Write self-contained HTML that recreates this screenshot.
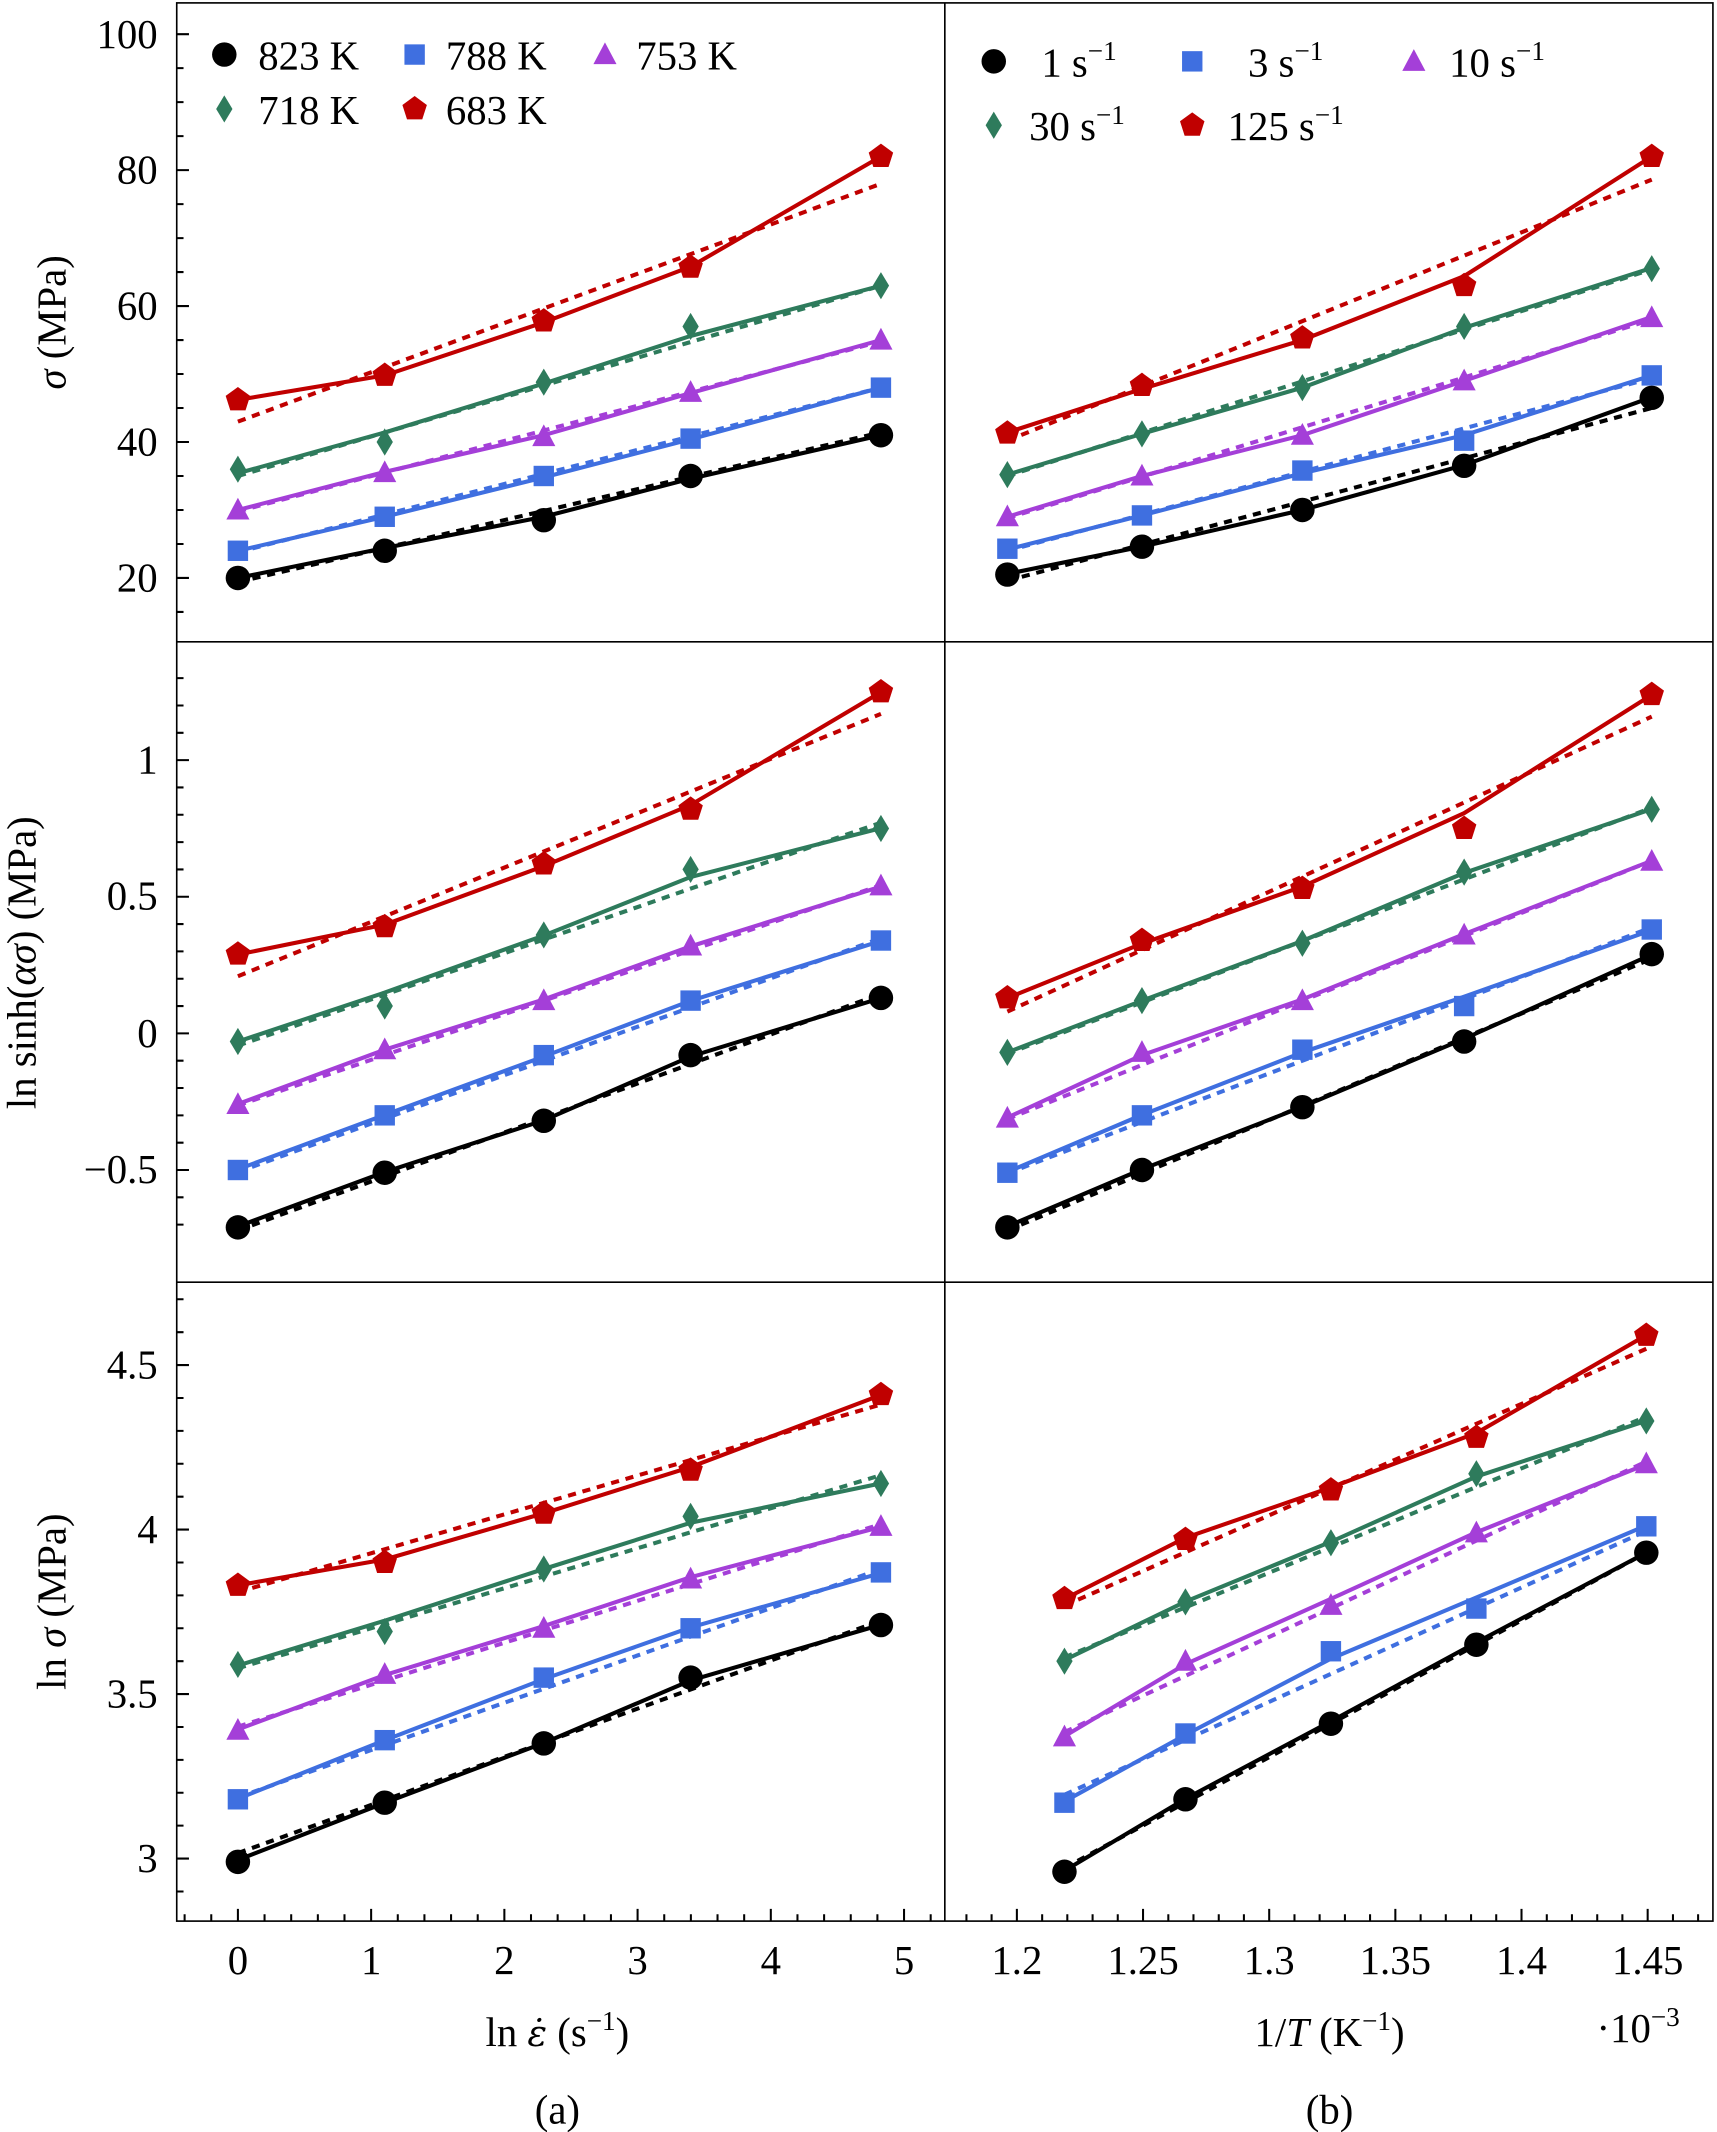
<!DOCTYPE html>
<html><head><meta charset="utf-8"><style>html,body{margin:0;padding:0;background:#fff}svg{display:block}</style></head>
<body>
<svg xmlns="http://www.w3.org/2000/svg" xmlns:xlink="http://www.w3.org/1999/xlink" width="1717" height="2132" viewBox="0 0 1263 1568" font-family="'Liberation Serif', serif">
<defs>
<circle id="c" r="9"/>
<rect id="s" x="-7.5" y="-7.5" width="15" height="15"/>
<polygon id="t" points="0,-9 8.5,7 -8.5,7"/>
<polygon id="d" points="0,-10 6,0 0,10 -6,0"/>
<polygon id="p" points="0,-9.5 9,-2.9 5.6,7.7 -5.6,7.7 -9,-2.9"/>
</defs>
<rect width="1263" height="1568" fill="#fff"/>
<g fill="none" stroke="#000" stroke-width="1.2">
<rect x="130" y="2" width="1130" height="1411"/>
<line x1="695" y1="2" x2="695" y2="1413"/>
<line x1="130" y1="472" x2="1260" y2="472"/>
<line x1="130" y1="943" x2="1260" y2="943"/>
</g>
<g stroke="#000" stroke-width="1.5" fill="none">
<path d="M130 425h9M130 325h9M130 225h9M130 125h9M130 25h9"/>
<path d="M130 450h5M130 400h5M130 375h5M130 350h5M130 300h5M130 275h5M130 250h5M130 200h5M130 175h5M130 150h5M130 100h5M130 75h5M130 50h5"/>
<path d="M130 860.5h9M130 760h9M130 659.5h9M130 559h9"/>
<path d="M130 900.7h5M130 880.6h5M130 840.4h5M130 820.3h5M130 800.2h5M130 780.1h5M130 739.9h5M130 719.8h5M130 699.7h5M130 679.6h5M130 639.4h5M130 619.3h5M130 599.2h5M130 579.1h5M130 538.9h5M130 518.8h5M130 498.7h5"/>
<path d="M130 1367h9M130 1246h9M130 1125h9M130 1004h9"/>
<path d="M130 1391.2h5M130 1342.8h5M130 1318.6h5M130 1294.4h5M130 1270.2h5M130 1221.8h5M130 1197.6h5M130 1173.4h5M130 1149.2h5M130 1100.8h5M130 1076.6h5M130 1052.4h5M130 1028.2h5M130 979.8h5M130 955.6h5"/>
<path d="M175 1413v-9M273 1413v-9M371 1413v-9M469 1413v-9M567 1413v-9M665 1413v-9"/>
<path d="M135.8 1413v-5M155.4 1413v-5M194.6 1413v-5M214.2 1413v-5M233.8 1413v-5M253.4 1413v-5M292.6 1413v-5M312.2 1413v-5M331.8 1413v-5M351.4 1413v-5M390.6 1413v-5M410.2 1413v-5M429.8 1413v-5M449.4 1413v-5M488.6 1413v-5M508.2 1413v-5M527.8 1413v-5M547.4 1413v-5M586.6 1413v-5M606.2 1413v-5M625.8 1413v-5M645.4 1413v-5M684.6 1413v-5"/>
<path d="M748 1413v-9M840.8 1413v-9M933.6 1413v-9M1026.4 1413v-9M1119.2 1413v-9M1212 1413v-9"/>
<path d="M710.9 1413v-5M729.4 1413v-5M766.6 1413v-5M785.1 1413v-5M803.7 1413v-5M822.2 1413v-5M859.4 1413v-5M877.9 1413v-5M896.5 1413v-5M915 1413v-5M952.2 1413v-5M970.7 1413v-5M989.3 1413v-5M1007.8 1413v-5M1045 1413v-5M1063.5 1413v-5M1082.1 1413v-5M1100.6 1413v-5M1137.8 1413v-5M1156.3 1413v-5M1174.9 1413v-5M1193.4 1413v-5M1230.6 1413v-5M1249.1 1413v-5"/>
</g>
<g font-size="30" text-anchor="end" fill="#000">
<text x="116" y="435">20</text><text x="116" y="335">40</text><text x="116" y="235">60</text><text x="116" y="135">80</text><text x="116" y="35">100</text>
<text x="116" y="870">−0.5</text><text x="116" y="770">0</text><text x="116" y="669">0.5</text><text x="116" y="569">1</text>
<text x="116" y="1377">3</text><text x="116" y="1256">3.5</text><text x="116" y="1135">4</text><text x="116" y="1014">4.5</text>
</g>
<g font-size="30" text-anchor="middle" fill="#000">
<text x="175" y="1452">0</text><text x="273" y="1452">1</text><text x="371" y="1452">2</text><text x="469" y="1452">3</text><text x="567" y="1452">4</text><text x="665" y="1452">5</text>
<text x="748" y="1452">1.2</text><text x="840.8" y="1452">1.25</text><text x="933.6" y="1452">1.3</text><text x="1026.4" y="1452">1.35</text><text x="1119.2" y="1452">1.4</text><text x="1212" y="1452">1.45</text>
<text x="410" y="1505">ln <tspan font-style="italic" font-family="'DejaVu Serif', serif" font-size="27">ε̇</tspan> (s<tspan font-size="20" dy="-12">−1</tspan><tspan dy="12">)</tspan></text>
<text x="978" y="1505">1/<tspan font-style="italic">T</tspan> (K<tspan font-size="20" dy="-12">−1</tspan><tspan dy="12">)</tspan></text>
<text x="1205" y="1502">·10<tspan font-size="20" dy="-12">−3</tspan></text>
<text x="410" y="1562">(a)</text><text x="978" y="1562">(b)</text>
<text transform="translate(48,237) rotate(-90)"><tspan font-style="italic">σ</tspan> (MPa)</text>
<text transform="translate(26,708) rotate(-90)">ln sinh(<tspan font-style="italic">ασ</tspan>) (MPa)</text>
<text transform="translate(48,1178) rotate(-90)">ln <tspan font-style="italic">σ</tspan> (MPa)</text>
</g>
<!-- legends -->
<g font-size="30" fill="#000">
<use href="#c" x="165" y="40" fill="#000"/><text x="190" y="51">823 K</text>
<use href="#s" x="305" y="40" fill="#3f6fe0"/><text x="328" y="51">788 K</text>
<use href="#t" x="445" y="40" fill="#a43fd8"/><text x="468" y="51">753 K</text>
<use href="#d" x="165" y="80" fill="#2e7b5c"/><text x="190" y="91">718 K</text>
<use href="#p" x="305" y="80" fill="#c00000"/><text x="328" y="91">683 K</text>
<use href="#c" x="731" y="45" fill="#000"/><text x="766" y="56">1 s<tspan font-size="20" dy="-12">−1</tspan></text>
<use href="#s" x="877" y="45" fill="#3f6fe0"/><text x="918" y="56">3 s<tspan font-size="20" dy="-12">−1</tspan></text>
<use href="#t" x="1040" y="45" fill="#a43fd8"/><text x="1066" y="56">10 s<tspan font-size="20" dy="-12">−1</tspan></text>
<use href="#d" x="731" y="92" fill="#2e7b5c"/><text x="757" y="103">30 s<tspan font-size="20" dy="-12">−1</tspan></text>
<use href="#p" x="877" y="92" fill="#c00000"/><text x="903" y="103">125 s<tspan font-size="20" dy="-12">−1</tspan></text>
</g>
<!-- series -->
<g fill="none" stroke-width="3">
<g stroke="#000"><polyline points="175,425 283,403 400,380 508,352 648,320"/><line x1="175" y1="428" x2="648" y2="318" stroke-dasharray="6,5"/></g>
<g stroke="#3f6fe0"><polyline points="175,405 283,380 400,351 508,323 648,285"/><line x1="175" y1="406" x2="648" y2="285" stroke-dasharray="6,5"/></g>
<g stroke="#a43fd8"><polyline points="175,375 283,347 400,320 508,289 648,250"/><line x1="175" y1="376" x2="648" y2="251" stroke-dasharray="6,5"/></g>
<g stroke="#2e7b5c"><polyline points="175,348 283,318 400,282 508,247 648,210"/><line x1="175" y1="350" x2="648" y2="210" stroke-dasharray="6,5"/></g>
<g stroke="#c00000"><polyline points="175,294 283,276 400,237 508,196 648,115"/><line x1="175" y1="310" x2="648" y2="135" stroke-dasharray="6,5"/></g>
<g stroke="#000"><polyline points="741,422 840,402 958,375 1077,342 1215,292"/><line x1="741" y1="427" x2="1215" y2="300" stroke-dasharray="6,5"/></g>
<g stroke="#3f6fe0"><polyline points="741,404 840,379 958,348 1077,320 1215,276"/><line x1="741" y1="405" x2="1215" y2="278" stroke-dasharray="6,5"/></g>
<g stroke="#a43fd8"><polyline points="741,380 840,350 958,320 1077,280 1215,233"/><line x1="741" y1="381" x2="1215" y2="235" stroke-dasharray="6,5"/></g>
<g stroke="#2e7b5c"><polyline points="741,349 840,319 958,285 1077,241 1215,197"/><line x1="741" y1="350" x2="1215" y2="198" stroke-dasharray="6,5"/></g>
<g stroke="#c00000"><polyline points="741,318 840,286 958,250 1077,203 1215,115"/><line x1="741" y1="324" x2="1215" y2="132" stroke-dasharray="6,5"/></g>
<g stroke="#000"><polyline points="175,902 283,862 400,824 508,777 648,734"/><line x1="175" y1="905" x2="648" y2="731" stroke-dasharray="6,5"/></g>
<g stroke="#3f6fe0"><polyline points="175,860 283,820 400,777 508,736 648,692"/><line x1="175" y1="862" x2="648" y2="690" stroke-dasharray="6,5"/></g>
<g stroke="#a43fd8"><polyline points="175,812 283,772 400,735 508,696 648,652"/><line x1="175" y1="813" x2="648" y2="651" stroke-dasharray="6,5"/></g>
<g stroke="#2e7b5c"><polyline points="175,766 283,730 400,688 508,645 648,609"/><line x1="175" y1="769" x2="648" y2="605" stroke-dasharray="6,5"/></g>
<g stroke="#c00000"><polyline points="175,702 283,680 400,637 508,592 648,509"/><line x1="175" y1="718" x2="648" y2="525" stroke-dasharray="6,5"/></g>
<g stroke="#000"><polyline points="741,902 840,860 958,814 1077,764 1215,702"/><line x1="741" y1="905" x2="1215" y2="705" stroke-dasharray="6,5"/></g>
<g stroke="#3f6fe0"><polyline points="741,862 840,820 958,774 1077,733 1215,684"/><line x1="741" y1="863" x2="1215" y2="682" stroke-dasharray="6,5"/></g>
<g stroke="#a43fd8"><polyline points="741,822 840,776 958,735 1077,687 1215,633"/><line x1="741" y1="823" x2="1215" y2="633" stroke-dasharray="6,5"/></g>
<g stroke="#2e7b5c"><polyline points="741,774 840,736 958,692 1077,642 1215,595"/><line x1="741" y1="775" x2="1215" y2="594" stroke-dasharray="6,5"/></g>
<g stroke="#c00000"><polyline points="741,734 840,694 958,652 1077,598 1215,511"/><line x1="741" y1="744" x2="1215" y2="527" stroke-dasharray="6,5"/></g>
<g stroke="#000"><polyline points="175,1368 283,1326 400,1282 508,1236 648,1195"/><line x1="175" y1="1363" x2="648" y2="1192" stroke-dasharray="6,5"/></g>
<g stroke="#3f6fe0"><polyline points="175,1323 283,1280 400,1235 508,1197 648,1157"/><line x1="175" y1="1322" x2="648" y2="1154" stroke-dasharray="6,5"/></g>
<g stroke="#a43fd8"><polyline points="175,1272 283,1232 400,1196 508,1160 648,1123"/><line x1="175" y1="1270" x2="648" y2="1121" stroke-dasharray="6,5"/></g>
<g stroke="#2e7b5c"><polyline points="175,1225 283,1192 400,1154 508,1120 648,1091"/><line x1="175" y1="1227" x2="648" y2="1085" stroke-dasharray="6,5"/></g>
<g stroke="#c00000"><polyline points="175,1166 283,1147 400,1113 508,1079 648,1026"/><line x1="175" y1="1171" x2="648" y2="1033" stroke-dasharray="6,5"/></g>
<g stroke="#000"><polyline points="783,1376 872,1323 979,1266 1086,1208 1211,1142"/><line x1="783" y1="1374" x2="1211" y2="1142" stroke-dasharray="6,5"/></g>
<g stroke="#3f6fe0"><polyline points="783,1325 872,1276 979,1220 1086,1175 1211,1122"/><line x1="783" y1="1320" x2="1211" y2="1126" stroke-dasharray="6,5"/></g>
<g stroke="#a43fd8"><polyline points="783,1277 872,1224 979,1176 1086,1127 1211,1077"/><line x1="783" y1="1274" x2="1211" y2="1075" stroke-dasharray="6,5"/></g>
<g stroke="#2e7b5c"><polyline points="783,1221 872,1178 979,1134 1086,1086 1211,1045"/><line x1="783" y1="1219" x2="1211" y2="1042" stroke-dasharray="6,5"/></g>
<g stroke="#c00000"><polyline points="783,1176 872,1131 979,1094 1086,1054 1211,982"/><line x1="783" y1="1181" x2="1211" y2="992" stroke-dasharray="6,5"/></g>
</g>
<g fill="#000">
<use href="#c" x="175" y="425"/><use href="#c" x="283" y="405"/><use href="#c" x="400" y="382.5"/><use href="#c" x="508" y="350"/><use href="#c" x="648" y="320"/>
<use href="#c" x="741" y="422.5"/><use href="#c" x="840" y="402"/><use href="#c" x="958" y="375"/><use href="#c" x="1077" y="342.5"/><use href="#c" x="1215" y="292.5"/>
<use href="#c" x="175" y="902.7"/><use href="#c" x="283" y="862.5"/><use href="#c" x="400" y="824.3"/><use href="#c" x="508" y="776"/><use href="#c" x="648" y="733.9"/>
<use href="#c" x="741" y="902.7"/><use href="#c" x="840" y="860.5"/><use href="#c" x="958" y="814.3"/><use href="#c" x="1077" y="766"/><use href="#c" x="1215" y="701.7"/>
<use href="#c" x="175" y="1369.4"/><use href="#c" x="283" y="1325.9"/><use href="#c" x="400" y="1282.3"/><use href="#c" x="508" y="1233.9"/><use href="#c" x="648" y="1195.2"/>
<use href="#c" x="783" y="1376.7"/><use href="#c" x="872" y="1323.4"/><use href="#c" x="979" y="1267.8"/><use href="#c" x="1086" y="1209.7"/><use href="#c" x="1211" y="1142"/>
</g>
<g fill="#3f6fe0">
<use href="#s" x="175" y="405"/><use href="#s" x="283" y="380"/><use href="#s" x="400" y="350"/><use href="#s" x="508" y="322.5"/><use href="#s" x="648" y="285"/>
<use href="#s" x="741" y="403.5"/><use href="#s" x="840" y="379"/><use href="#s" x="958" y="346"/><use href="#s" x="1077" y="324"/><use href="#s" x="1215" y="276"/>
<use href="#s" x="175" y="860.5"/><use href="#s" x="283" y="820.3"/><use href="#s" x="400" y="776"/><use href="#s" x="508" y="735.9"/><use href="#s" x="648" y="691.7"/>
<use href="#s" x="741" y="862.5"/><use href="#s" x="840" y="820.3"/><use href="#s" x="958" y="772"/><use href="#s" x="1077" y="739.9"/><use href="#s" x="1215" y="683.6"/>
<use href="#s" x="175" y="1323.4"/><use href="#s" x="283" y="1279.9"/><use href="#s" x="400" y="1233.9"/><use href="#s" x="508" y="1197.6"/><use href="#s" x="648" y="1156.5"/>
<use href="#s" x="783" y="1325.9"/><use href="#s" x="872" y="1275"/><use href="#s" x="979" y="1214.5"/><use href="#s" x="1086" y="1183.1"/><use href="#s" x="1211" y="1122.6"/>
</g>
<g fill="#a43fd8">
<use href="#t" x="175" y="375"/><use href="#t" x="283" y="347.5"/><use href="#t" x="400" y="321"/><use href="#t" x="508" y="288.5"/><use href="#t" x="648" y="250"/>
<use href="#t" x="741" y="380"/><use href="#t" x="840" y="350"/><use href="#t" x="958" y="320"/><use href="#t" x="1077" y="280"/><use href="#t" x="1215" y="233.5"/>
<use href="#t" x="175" y="812.3"/><use href="#t" x="283" y="772"/><use href="#t" x="400" y="735.9"/><use href="#t" x="508" y="695.7"/><use href="#t" x="648" y="651.5"/>
<use href="#t" x="741" y="822.3"/><use href="#t" x="840" y="774"/><use href="#t" x="958" y="735.9"/><use href="#t" x="1077" y="687.6"/><use href="#t" x="1215" y="633.4"/>
<use href="#t" x="175" y="1272.6"/><use href="#t" x="283" y="1231.5"/><use href="#t" x="400" y="1197.6"/><use href="#t" x="508" y="1161.3"/><use href="#t" x="648" y="1122.6"/>
<use href="#t" x="783" y="1277.5"/><use href="#t" x="872" y="1221.8"/><use href="#t" x="979" y="1180.7"/><use href="#t" x="1086" y="1127.4"/><use href="#t" x="1211" y="1076.6"/>
</g>
<g fill="#2e7b5c">
<use href="#d" x="175" y="345"/><use href="#d" x="283" y="325"/><use href="#d" x="400" y="281"/><use href="#d" x="508" y="240"/><use href="#d" x="648" y="210"/>
<use href="#d" x="741" y="349"/><use href="#d" x="840" y="319"/><use href="#d" x="958" y="285"/><use href="#d" x="1077" y="240"/><use href="#d" x="1215" y="197.5"/>
<use href="#d" x="175" y="766"/><use href="#d" x="283" y="739.9"/><use href="#d" x="400" y="687.6"/><use href="#d" x="508" y="639.4"/><use href="#d" x="648" y="609.3"/>
<use href="#d" x="741" y="774"/><use href="#d" x="840" y="735.9"/><use href="#d" x="958" y="693.7"/><use href="#d" x="1077" y="641.4"/><use href="#d" x="1215" y="595.2"/>
<use href="#d" x="175" y="1224.2"/><use href="#d" x="283" y="1200"/><use href="#d" x="400" y="1154"/><use href="#d" x="508" y="1115.3"/><use href="#d" x="648" y="1091.1"/>
<use href="#d" x="783" y="1221.8"/><use href="#d" x="872" y="1178.2"/><use href="#d" x="979" y="1134.7"/><use href="#d" x="1086" y="1083.9"/><use href="#d" x="1211" y="1045.1"/>
</g>
<g fill="#c00000">
<use href="#p" x="175" y="294"/><use href="#p" x="283" y="276"/><use href="#p" x="400" y="236"/><use href="#p" x="508" y="196.5"/><use href="#p" x="648" y="115"/>
<use href="#p" x="741" y="318.5"/><use href="#p" x="840" y="283.5"/><use href="#p" x="958" y="248.5"/><use href="#p" x="1077" y="210"/><use href="#p" x="1215" y="115"/>
<use href="#p" x="175" y="701.7"/><use href="#p" x="283" y="681.6"/><use href="#p" x="400" y="635.4"/><use href="#p" x="508" y="595.2"/><use href="#p" x="648" y="508.8"/>
<use href="#p" x="741" y="733.9"/><use href="#p" x="840" y="691.7"/><use href="#p" x="958" y="653.5"/><use href="#p" x="1077" y="609.3"/><use href="#p" x="1215" y="510.8"/>
<use href="#p" x="175" y="1166.1"/><use href="#p" x="283" y="1149.2"/><use href="#p" x="400" y="1113"/><use href="#p" x="508" y="1081.4"/><use href="#p" x="648" y="1025.8"/>
<use href="#p" x="783" y="1175.8"/><use href="#p" x="872" y="1132.3"/><use href="#p" x="979" y="1095.9"/><use href="#p" x="1086" y="1057.2"/><use href="#p" x="1211" y="982.2"/>
</g>
</svg>
</body></html>
